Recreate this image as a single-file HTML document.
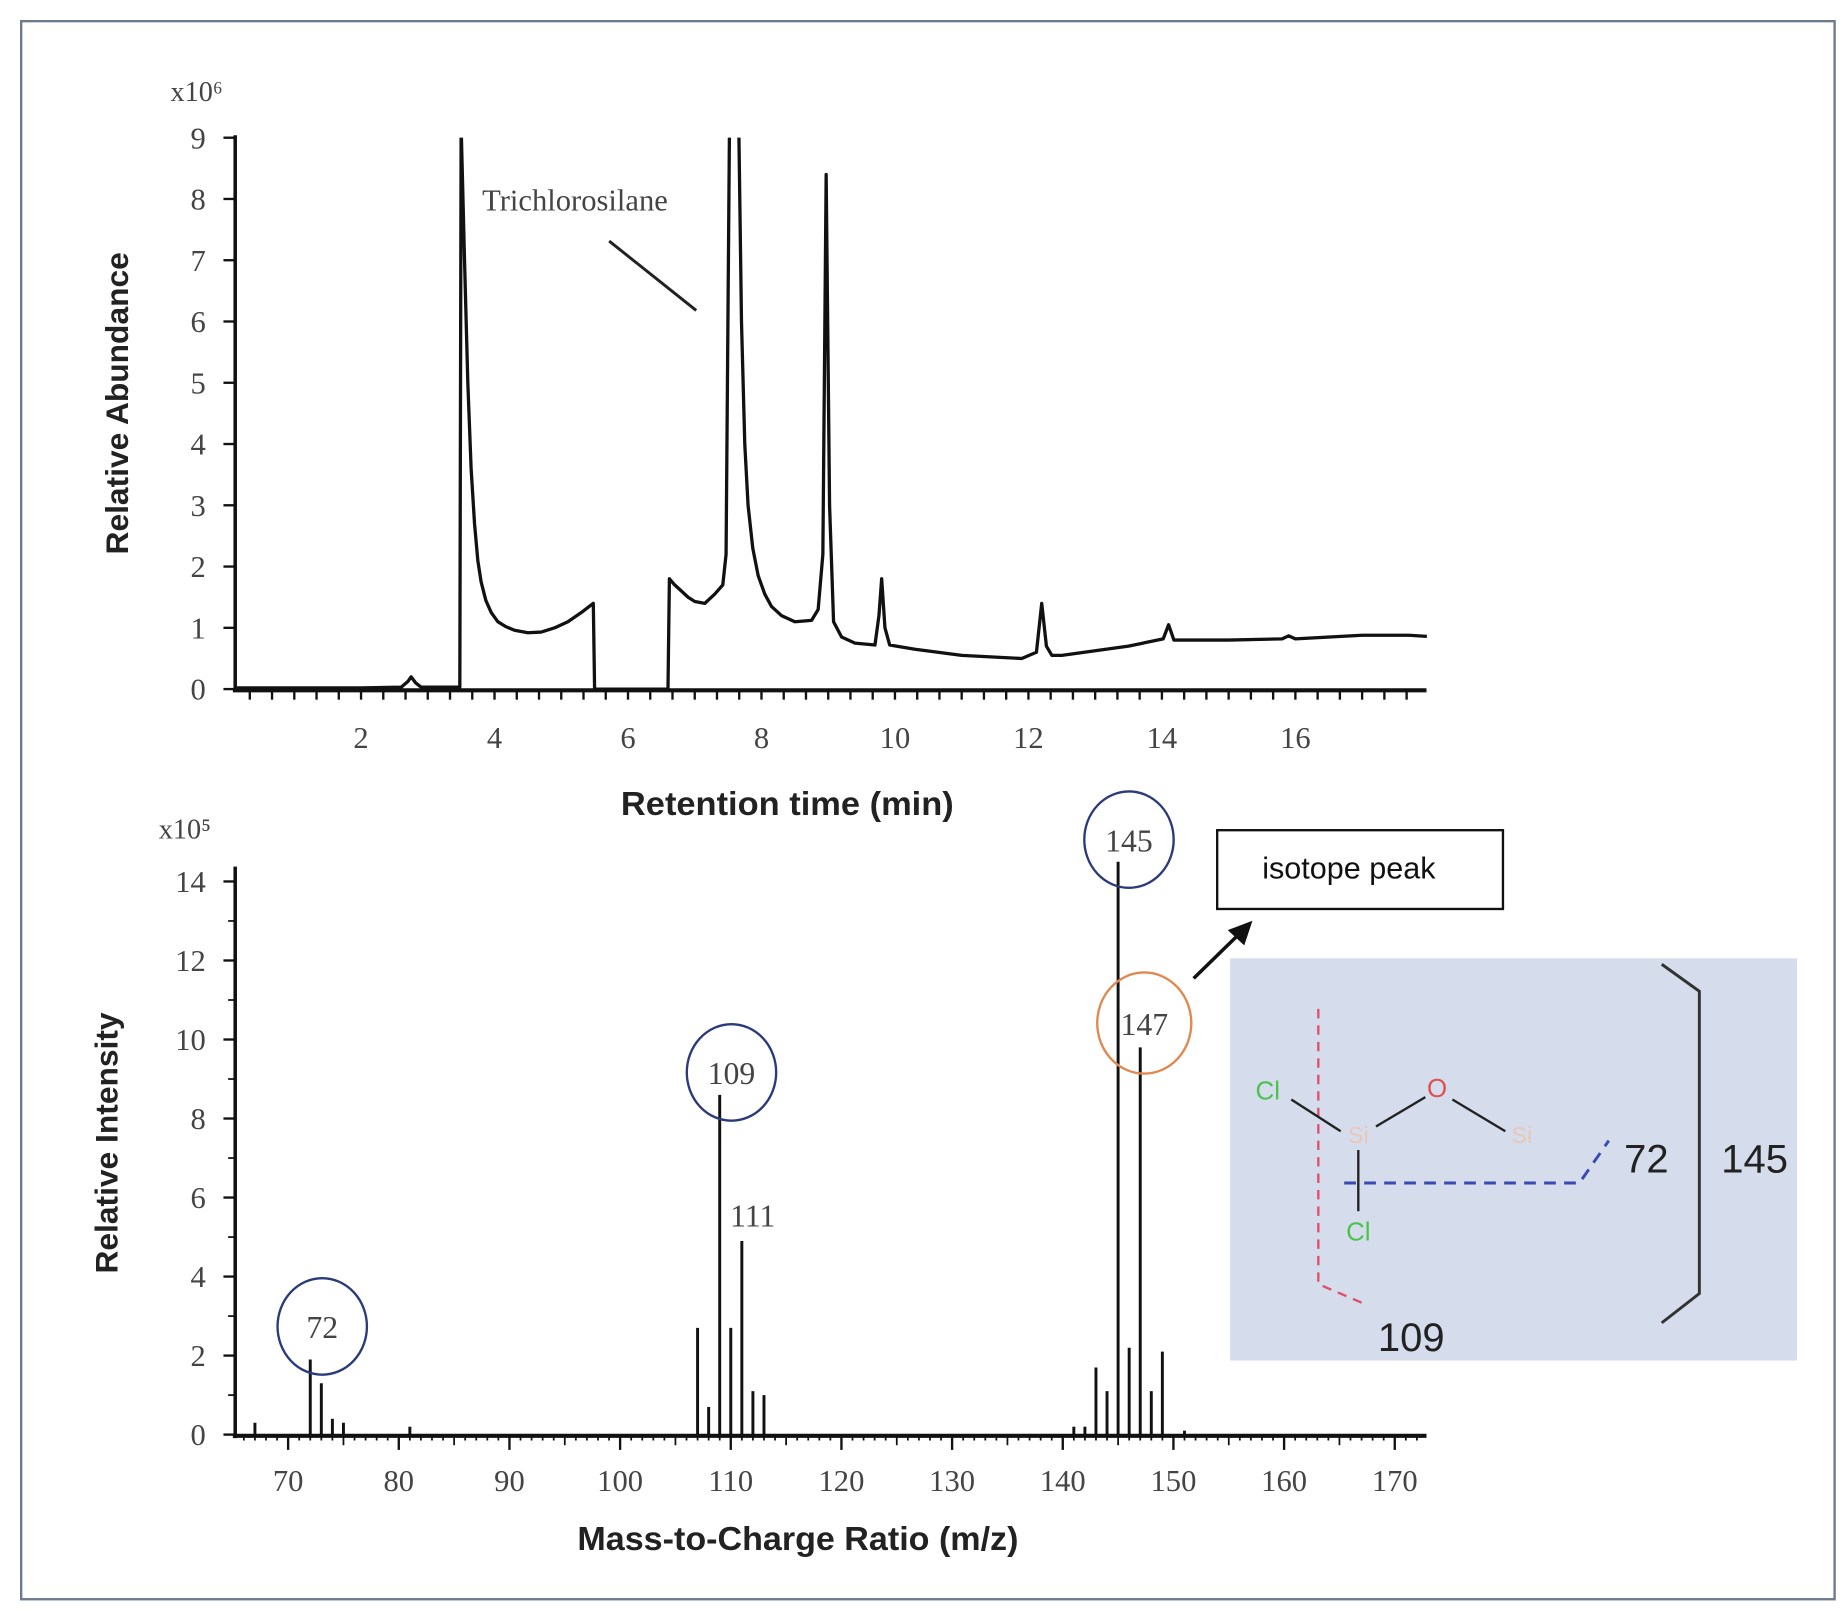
<!DOCTYPE html>
<html><head><meta charset="utf-8"><style>
html,body{margin:0;padding:0;background:#fff}
svg{display:block}
.serif{font-family:"Liberation Serif",serif;fill:#444}
.sans{font-family:"Liberation Sans",sans-serif}
</style></head><body>
<svg id="fig" width="1844" height="1611" viewBox="0 0 1568 1370" preserveAspectRatio="none">
<rect x="18" y="18" width="1542" height="1342" fill="#fff" stroke="#6b7a8c" stroke-width="2"/>
<g id="topChart"></g>
<g id="botChart"></g>
<g>
<rect x="1046" y="815" width="482" height="342" fill="#d5dcec"/>
<polyline points="1413,820 1445,843 1445,1100 1413,1125" fill="none" stroke="#333" stroke-width="2.5"/>
<text x="1492" y="997" class="sans" font-size="34" text-anchor="middle" fill="#222">145</text>
<text x="1400" y="997" class="sans" font-size="34" text-anchor="middle" fill="#222">72</text>
<text x="1200" y="1149" class="sans" font-size="34" text-anchor="middle" fill="#222">109</text>
<polyline points="1121,858 1121,1092 1163,1110" fill="none" stroke="#e0506a" stroke-width="2" stroke-dasharray="8,6"/>
<polyline points="1143,1006 1343,1006 1368,970" fill="none" stroke="#3a4ab0" stroke-width="2.5" stroke-dasharray="10,7"/>
<line x1="1098" y1="935" x2="1140" y2="962" stroke="#222" stroke-width="2"/>
<line x1="1170" y1="958" x2="1212" y2="933" stroke="#222" stroke-width="2"/>
<line x1="1235" y1="935" x2="1280" y2="962" stroke="#222" stroke-width="2"/>
<line x1="1155" y1="978" x2="1155" y2="1030" stroke="#222" stroke-width="2"/>
<text x="1078" y="935" class="sans" font-size="22" text-anchor="middle" fill="#4cc24c">Cl</text>
<text x="1155" y="972" class="sans" font-size="20" text-anchor="middle" fill="#e8c8b8">Si</text>
<text x="1222" y="933" class="sans" font-size="22" text-anchor="middle" fill="#e05050">O</text>
<text x="1294" y="972" class="sans" font-size="20" text-anchor="middle" fill="#e8c8b8">Si</text>
<text x="1155" y="1055" class="sans" font-size="22" text-anchor="middle" fill="#4cc24c">Cl</text>
</g>
<rect x="1035" y="706" width="243" height="67" fill="#fff" stroke="#111" stroke-width="2"/>
<text x="1147" y="747" class="sans" font-size="26" text-anchor="middle" fill="#111">isotope peak</text>
<line x1="1015" y1="832" x2="1055" y2="793" stroke="#111" stroke-width="3"/>
<polygon points="1065,783 1044,791 1058,804" fill="#111"/>
</svg>
<script>
// Chromatogram data
const rtTimes = [0.12,1.0,2.0,2.6,2.7,2.75,2.82,2.9,3.45,3.48,3.5,3.55,3.6,3.65,3.7,3.75,3.8,3.87,3.95,4.05,4.17,4.3,4.5,4.7,4.9,5.1,5.3,5.48,5.5,5.52,6.6,6.62,6.7,6.8,6.9,7.0,7.15,7.3,7.42,7.47,7.52,7.66,7.7,7.75,7.8,7.87,7.95,8.05,8.15,8.3,8.5,8.75,8.85,8.92,8.97,9.02,9.08,9.2,9.4,9.7,9.76,9.8,9.85,9.92,10.3,11.0,11.9,12.12,12.2,12.27,12.35,12.5,13.5,14.02,14.1,14.18,15.0,15.8,15.9,16.0,17.0,17.7,17.97];
const rtAbund = [0.02,0.02,0.02,0.03,0.12,0.2,0.1,0.03,0.03,0.03,9.2,7.0,5.0,3.6,2.7,2.1,1.75,1.45,1.25,1.1,1.02,0.96,0.92,0.93,1.0,1.1,1.25,1.4,0.0,0.0,0.0,1.8,1.7,1.6,1.5,1.43,1.4,1.55,1.7,2.2,9.2,9.2,6.0,4.0,3.0,2.3,1.85,1.55,1.35,1.2,1.1,1.12,1.3,2.2,8.4,3.0,1.1,0.85,0.75,0.72,1.2,1.8,1.0,0.72,0.65,0.55,0.5,0.6,1.4,0.7,0.55,0.55,0.7,0.82,1.05,0.8,0.8,0.82,0.87,0.82,0.88,0.88,0.86];
const rtTicks = [2,4,6,8,10,12,14,16];
const abTicks = [0,1,2,3,4,5,6,7,8,9];
// Mass spectrum data
const mzValues = [67,72,73,74,75,81,107,108,109,110,111,112,113,141,142,143,144,145,146,147,148,149,151];
const mzIntensity = [0.3,1.9,1.3,0.4,0.3,0.2,2.7,0.7,8.6,2.7,4.9,1.1,1.0,0.2,0.2,1.7,1.1,14.5,2.2,9.8,1.1,2.1,0.1];
const mzTicks = [70,80,90,100,110,120,130,140,150,160,170];
const intTicks = [0,2,4,6,8,10,12,14];

const NS='http://www.w3.org/2000/svg';
function mk(parent,tag,attrs,text){const e=document.createElementNS(NS,tag);for(const k in attrs)e.setAttribute(k,attrs[k]);if(text!==undefined)e.textContent=text;parent.appendChild(e);return e;}

// top chart scales
const tx=t=>193.5+56.75*t, ty=v=>586-52.1*v;
const topG=document.getElementById('topChart');
const clipEl=mk(topG,'clipPath',{id:'c1'});mk(clipEl,'rect',{x:195,y:117,width:1020,height:480});
let d='';rtTimes.forEach((t,i)=>{d+=(i?'L':'M')+tx(t).toFixed(1)+','+ty(rtAbund[i]).toFixed(1);});
let p=mk(topG,'path',{d:d,fill:'none',stroke:'#111','stroke-width':2.8,'stroke-linejoin':'round','clip-path':'url(#c1)'});


let a=mk(topG,'line',{x1:200,y1:115,x2:200,y2:588,stroke:'#111','stroke-width':3});


a=mk(topG,'line',{x1:198,y1:587,x2:1213,y2:587,stroke:'#111','stroke-width':3.5});


for(let t=1/3;t<17.98;t+=1/3){const l=mk(topG,'line',{x1:tx(t),y1:587,x2:tx(t),y2:595,stroke:'#111','stroke-width':2});}
rtTicks.forEach(t=>{const e=mk(topG,'text',{x:tx(t),y:636,'font-size':26,'text-anchor':'middle',class:'serif'},String(t));});
abTicks.forEach(v=>{const e=mk(topG,'text',{x:175,y:ty(v)+9,'font-size':26,'text-anchor':'end',class:'serif'},String(v));
const l=mk(topG,'line',{x1:190,y1:ty(v),x2:200,y2:ty(v),stroke:'#111','stroke-width':2});});
let e=mk(topG,'text',{x:145,y:86,'font-size':24,class:'serif'},'x10⁶');


e=mk(topG,'text',{x:0,y:0,'font-size':27,'font-weight':'bold','text-anchor':'middle',class:'sans',transform:'translate(109,343) rotate(-90)',fill:'#222'},'Relative Abundance');


e=mk(topG,'text',{x:528,y:693,'font-size':28,'font-weight':'bold',class:'sans',fill:'#222',textLength:283,lengthAdjust:'spacingAndGlyphs'},'Retention time (min)');


e=mk(topG,'text',{x:410,y:179,'font-size':26,class:'serif',fill:'#555'},'Trichlorosilane');


e=mk(topG,'line',{x1:518,y1:205,x2:592,y2:264,stroke:'#222','stroke-width':2.5});



// bottom chart scales
const bx=m=>245+9.41*(m-70), by=v=>1220-33.6*v;
const botG=document.getElementById('botChart');
mzValues.forEach((m,i)=>{const l=mk(botG,'line',{x1:bx(m),y1:1220,x2:bx(m),y2:by(mzIntensity[i]),stroke:'#111','stroke-width':2.5});});
a=mk(botG,'line',{x1:200,y1:737,x2:200,y2:1223,stroke:'#111','stroke-width':3});


a=mk(botG,'line',{x1:198,y1:1221,x2:1213,y2:1221,stroke:'#111','stroke-width':3.5});


for(let m=66;m<=172;m+=1){const big=m%10==0,mid=m%5==0;const l=mk(botG,'line',{x1:bx(m),y1:1221,x2:bx(m),y2:1221+(big?12:(mid?8:4)),stroke:'#111','stroke-width':big?2:1.5});}
mzTicks.forEach(m=>{const t=mk(botG,'text',{x:bx(m),y:1268,'font-size':26,'text-anchor':'middle',class:'serif'},String(m));});
intTicks.forEach(v=>{const t=mk(botG,'text',{x:175,y:by(v)+9,'font-size':26,'text-anchor':'end',class:'serif'},String(v));
const l=mk(botG,'line',{x1:190,y1:by(v),x2:200,y2:by(v),stroke:'#111','stroke-width':2});
if(v<14){const l2=mk(botG,'line',{x1:194,y1:by(v+1),x2:200,y2:by(v+1),stroke:'#111','stroke-width':1.5});}});
e=mk(botG,'text',{x:135,y:713,'font-size':24,class:'serif'},'x10⁵');


e=mk(botG,'text',{x:0,y:0,'font-size':27,'font-weight':'bold','text-anchor':'middle',class:'sans',transform:'translate(100,972) rotate(-90)',fill:'#222'},'Relative Intensity');


e=mk(botG,'text',{x:491,y:1318,'font-size':28,'font-weight':'bold',class:'sans',fill:'#222',textLength:375,lengthAdjust:'spacingAndGlyphs'},'Mass-to-Charge Ratio (m/z)');


[[274,1128,'72','#2a3a7a',38],[622,912,'109','#2a3a7a',38],[960,714,'145','#2a3a7a',38],[973,870,'147','#e08850',40]].forEach(c=>{
const ci=mk(botG,'ellipse',{cx:c[0],cy:c[1],rx:c[4],ry:c[4]+3,fill:'none',stroke:c[3],'stroke-width':2});
const t=mk(botG,'text',{x:c[0],y:c[1]+10,'font-size':27,'text-anchor':'middle',class:'serif'},c[2]);});
e=mk(botG,'text',{x:640,y:1043,'font-size':27,'text-anchor':'middle',class:'serif'},'111');


</script>
</body></html>
